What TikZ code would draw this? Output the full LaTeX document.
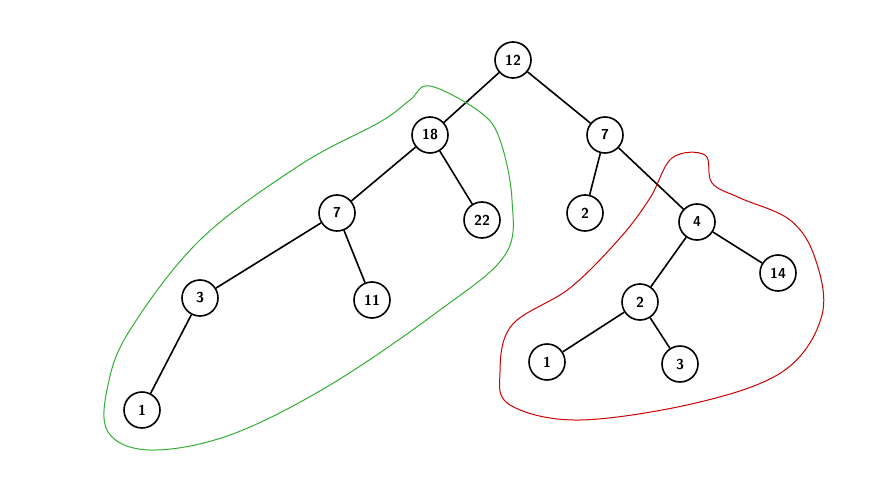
\documentclass[tikz,border=0pt]{standalone}
\usetikzlibrary{calc}
\begin{document}
\begin{tikzpicture}[x=1pt,y=-1pt,
 nd/.style={circle,draw,line width=1.6pt,minimum size=36pt,inner sep=0pt,font=\sffamily\bfseries\Large},
 ed/.style={line width=1.6pt}]
\useasboundingbox (0,0) rectangle (893,481);
\node[nd] (a) at (513,60) {12};
\node[nd] (b) at (430,135) {18};
\node[nd] (c) at (605,135) {7};
\node[nd] (d) at (337,213) {7};
\node[nd] (e) at (482,220) {22};
\node[nd] (f) at (585,213) {2};
\node[nd] (g) at (697,222) {4};
\node[nd] (h) at (200,298) {3};
\node[nd] (i) at (372,300) {11};
\node[nd] (j) at (640,302) {2};
\node[nd] (k) at (778,273) {14};
\node[nd] (l) at (142,410) {1};
\node[nd] (m) at (547,362) {1};
\node[nd] (n) at (680,364) {3};
\foreach \u/\v in {a/b,a/c,b/d,b/e,c/f,c/g,d/h,d/i,h/l,g/j,g/k,j/m,j/n}
  \draw[ed] (\u) -- (\v);
\draw[green!60!black!80, line width=1pt] plot[smooth cycle, tension=0.6] coordinates {
(108,432)(150,450)(230,435)(330,385)(440,310)(505,255)(512,200)(500,140)(480,112)(430,86)(410,100)(380,122)(300,165)(200,240)(130,330)(108,385)};
\draw[red!80!black, line width=1pt] plot[smooth cycle, tension=0.6] coordinates {
(510,405)(580,420)(700,402)(785,370)(822,315)(815,258)(790,220)(740,198)(712,183)(705,155)(672,158)(650,198)(620,238)(570,288)(512,325)(500,372)};
\end{tikzpicture}
\end{document}
